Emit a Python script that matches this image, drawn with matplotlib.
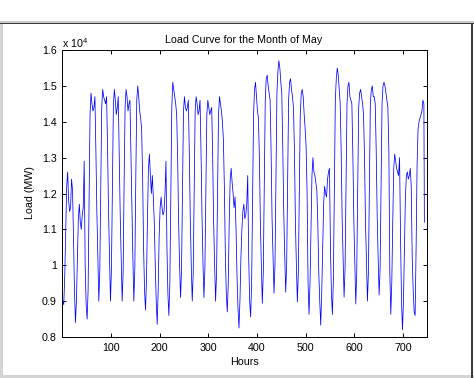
import matplotlib
matplotlib.use('Agg')
import matplotlib.pyplot as plt
from matplotlib.patches import Rectangle
from matplotlib.ticker import FuncFormatter

plt.rcParams['font.family'] = ['Liberation Sans', 'DejaVu Sans']
plt.rcParams['mathtext.fontset'] = 'custom'
plt.rcParams['mathtext.rm'] = 'Liberation Sans'

# load in units of 10^4 MW, every two hours (hour of day)
slot_hours = [1, 3, 5, 7, 9, 11, 13, 15, 17, 19, 21, 23]
daily_load = [
    [0.90, 0.89, 0.97, 1.10, 1.22, 1.26, 1.18, 1.15, 1.16, 1.24, 1.21, 1.08],   # 1
    [0.93, 0.84, 0.90, 1.02, 1.13, 1.17, 1.12, 1.10, 1.14, 1.16, 1.29, 1.00],   # 2
    [0.89, 0.85, 0.93, 1.18, 1.42, 1.48, 1.45, 1.43, 1.44, 1.47, 1.32, 1.15],   # 3
    [1.02, 0.90, 0.98, 1.22, 1.44, 1.49, 1.47, 1.46, 1.45, 1.47, 1.33, 1.15],   # 4
    [1.02, 0.90, 0.99, 1.22, 1.45, 1.49, 1.46, 1.42, 1.44, 1.47, 1.30, 1.14],   # 5
    [1.02, 0.90, 0.98, 1.23, 1.44, 1.49, 1.47, 1.43, 1.45, 1.46, 1.31, 1.15],   # 6
    [1.02, 0.90, 0.99, 1.24, 1.46, 1.50, 1.47, 1.43, 1.41, 1.38, 1.25, 1.05],   # 7
    [0.93, 0.875, 0.96, 1.13, 1.27, 1.31, 1.25, 1.20, 1.25, 1.19, 1.12, 1.00],  # 8
    [0.90, 0.835, 0.93, 1.08, 1.16, 1.19, 1.16, 1.14, 1.15, 1.20, 1.29, 1.05],  # 9
    [0.92, 0.86, 0.95, 1.20, 1.44, 1.51, 1.49, 1.47, 1.45, 1.42, 1.30, 1.12],   # 10
    [1.00, 0.91, 0.99, 1.22, 1.43, 1.47, 1.44, 1.43, 1.44, 1.46, 1.31, 1.13],   # 11
    [1.00, 0.90, 0.98, 1.21, 1.43, 1.47, 1.45, 1.42, 1.43, 1.46, 1.32, 1.14],   # 12
    [1.01, 0.91, 0.99, 1.21, 1.42, 1.46, 1.44, 1.42, 1.43, 1.44, 1.30, 1.12],   # 13
    [1.00, 0.90, 0.98, 1.20, 1.42, 1.47, 1.45, 1.43, 1.40, 1.35, 1.22, 1.03],   # 14
    [0.92, 0.87, 0.95, 1.12, 1.24, 1.27, 1.23, 1.20, 1.16, 1.19, 1.10, 0.97],   # 15
    [0.88, 0.825, 0.90, 1.02, 1.10, 1.15, 1.17, 1.13, 1.14, 1.17, 1.25, 1.02],  # 16
    [0.90, 0.856, 0.95, 1.18, 1.42, 1.49, 1.51, 1.47, 1.43, 1.41, 1.30, 1.12],  # 17
    [1.00, 0.894, 0.98, 1.22, 1.46, 1.52, 1.53, 1.50, 1.48, 1.46, 1.32, 1.13],  # 18
    [1.02, 0.922, 1.00, 1.25, 1.48, 1.54, 1.57, 1.55, 1.51, 1.48, 1.33, 1.15],  # 19
    [1.03, 0.925, 1.00, 1.24, 1.46, 1.51, 1.52, 1.49, 1.47, 1.44, 1.32, 1.12],  # 20
    [1.00, 0.898, 0.98, 1.20, 1.42, 1.48, 1.49, 1.47, 1.42, 1.38, 1.33, 1.20],  # 21
    [0.95, 0.863, 0.95, 1.10, 1.25, 1.30, 1.26, 1.25, 1.23, 1.21, 1.12, 0.98],  # 22
    [0.90, 0.833, 0.92, 1.05, 1.17, 1.22, 1.20, 1.19, 1.24, 1.26, 1.27, 1.05],  # 23
    [0.92, 0.863, 0.96, 1.22, 1.46, 1.52, 1.55, 1.53, 1.49, 1.45, 1.32, 1.13],  # 24
    [1.02, 0.911, 0.99, 1.22, 1.45, 1.50, 1.51, 1.47, 1.46, 1.45, 1.31, 1.13],  # 25
    [1.01, 0.892, 0.98, 1.21, 1.44, 1.48, 1.49, 1.47, 1.45, 1.42, 1.30, 1.12],  # 26
    [1.01, 0.90, 0.98, 1.22, 1.45, 1.49, 1.50, 1.47, 1.47, 1.45, 1.32, 1.14],   # 27
    [1.02, 0.917, 0.99, 1.22, 1.45, 1.50, 1.51, 1.50, 1.48, 1.46, 1.44, 1.32],  # 28
    [0.98, 0.863, 0.95, 1.12, 1.27, 1.31, 1.29, 1.27, 1.26, 1.25, 1.30, 1.08],  # 29
    [0.90, 0.82, 0.90, 1.05, 1.19, 1.25, 1.26, 1.24, 1.25, 1.27, 1.22, 1.02],   # 30
    [0.93, 0.87, 0.86, 1.05, 1.28, 1.38, 1.40, 1.41, 1.42, 1.43, 1.46, 1.45],   # 31
]
last_hour = 744
last_load = 1.12

x_ticks = [100, 200, 300, 400, 500, 600, 700]
y_ticks = [0.8, 0.9, 1.0, 1.1, 1.2, 1.3, 1.4, 1.5, 1.6]

hours = [24 * d + h for d in range(len(daily_load)) for h in slot_hours] + [last_hour]
load = [v for day in daily_load for v in day] + [last_load]

W, H = 474, 378
fig = plt.figure(figsize=(W / 100, H / 100), dpi=100)

# window frame around the figure
fig.patches.append(Rectangle((0, 1 - 24 / H), 1, 1.5 / H, transform=fig.transFigure,
                             color='#3c3c3c', lw=0))
fig.patches.append(Rectangle((0, 1 - 22.5 / H), 1, 1 / H, transform=fig.transFigure,
                             color='#c8c8c8', lw=0))
fig.patches.append(Rectangle((0, 0), 2.5 / W, 1 - 24 / H, transform=fig.transFigure,
                             color='#d4d4d4', lw=0))
fig.patches.append(Rectangle((0, 0), 1, 3 / H, transform=fig.transFigure,
                             color='#d4d4d4', lw=0))
fig.patches.append(Rectangle((471 / W, 0), 1.5 / W, 1 - 22.5 / H, transform=fig.transFigure,
                             color='#3c3c3c', lw=0))

ax = fig.add_axes([62.3 / W, 41 / H, 365 / W, 287 / H])
ax.plot(hours, load, color='#0000ff', lw=0.55)
ax.set_xlim(0, 750)
ax.set_ylim(0.8, 1.6)
ax.set_xticks(x_ticks)
ax.set_yticks(y_ticks)
ax.yaxis.set_major_formatter(FuncFormatter(lambda v, p: '%g' % round(v, 1)))
ax.tick_params(direction='in', top=True, right=True, length=3, width=0.7,
               labelsize=7.7, pad=4)
for s in ax.spines.values():
    s.set_linewidth(0.7)

fig.text(244 / W, 1 - 40 / H, 'Load Curve for the Month of May', fontsize=7.7,
         ha='center', va='center')
fig.text(62.5 / W, 1 - 43 / H, r'x 10$^{\mathrm{4}}$', fontsize=7.7, ha='left', va='center')
fig.text(30 / W, 1 - 193 / H, 'Load (MW)', fontsize=7.7, rotation=90,
         ha='center', va='center')
fig.text(244.8 / W, 1 - 362 / H, 'Hours', fontsize=7.7, ha='center', va='center')

fig.savefig('out.png', dpi=100)
